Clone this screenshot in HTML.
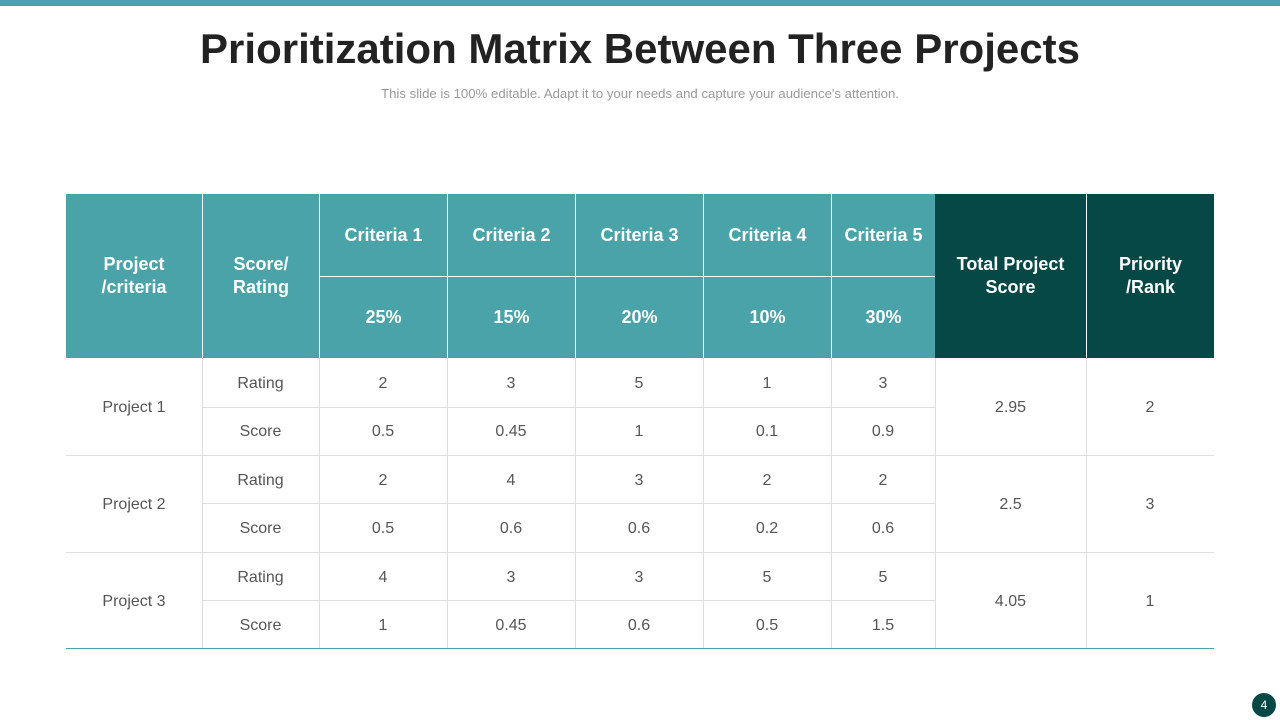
<!DOCTYPE html>
<html><head><style>
body{margin:0;width:1280px;height:720px;position:relative;background:#fff;font-family:"Liberation Sans",Arial,sans-serif;overflow:hidden}
.a{position:absolute;box-sizing:border-box;display:flex;align-items:center;justify-content:center;text-align:center}
.h{background:#4aa3a8;color:#fff;font-weight:bold;font-size:18px;line-height:23px}
.d{background:#054846;color:#fff;font-weight:bold;font-size:18px;line-height:23px}
.c{color:#555;font-size:16px;padding-top:3px}
.vl{position:absolute;width:1px;background:#ddd}
.hl{position:absolute;height:1px;background:#ddd}
</style></head><body>
<div style="position:absolute;left:0;top:0;width:1280px;height:6px;background:#4aa3a8"></div>
<div class="a" style="left:0;top:21px;width:1280px;height:56px;font-size:42px;font-weight:bold;color:#222">Prioritization Matrix Between Three Projects</div>
<div class="a" style="left:0;top:84px;width:1280px;height:18px;font-size:13.2px;color:#999">This slide is 100% editable. Adapt it to your needs and capture your audience's attention.</div>

<div class="a h" style="left:66px;top:194px;width:136px;height:164px">Project<br>/criteria</div>
<div class="a h" style="left:203px;top:194px;width:116px;height:164px">Score/<br>Rating</div>
<div class="a h" style="left:320px;top:194px;width:127px;height:82px">Criteria 1</div>
<div class="a h" style="left:448px;top:194px;width:127px;height:82px">Criteria 2</div>
<div class="a h" style="left:576px;top:194px;width:127px;height:82px">Criteria 3</div>
<div class="a h" style="left:704px;top:194px;width:127px;height:82px">Criteria 4</div>
<div class="a h" style="left:832px;top:194px;width:103px;height:82px">Criteria 5</div>
<div class="a h" style="left:320px;top:277px;width:127px;height:81px">25%</div>
<div class="a h" style="left:448px;top:277px;width:127px;height:81px">15%</div>
<div class="a h" style="left:576px;top:277px;width:127px;height:81px">20%</div>
<div class="a h" style="left:704px;top:277px;width:127px;height:81px">10%</div>
<div class="a h" style="left:832px;top:277px;width:103px;height:81px">30%</div>
<div class="a d" style="left:935px;top:194px;width:151px;height:164px">Total Project<br>Score</div>
<div class="a d" style="left:1087px;top:194px;width:127px;height:164px">Priority<br>/Rank</div>

<div class="vl" style="left:202px;top:358px;height:291px"></div>
<div class="vl" style="left:319px;top:358px;height:291px"></div>
<div class="vl" style="left:447px;top:358px;height:291px"></div>
<div class="vl" style="left:575px;top:358px;height:291px"></div>
<div class="vl" style="left:703px;top:358px;height:291px"></div>
<div class="vl" style="left:831px;top:358px;height:291px"></div>
<div class="vl" style="left:935px;top:358px;height:291px"></div>
<div class="vl" style="left:1086px;top:358px;height:291px"></div>
<div class="hl" style="left:202px;top:407px;width:733px"></div>
<div class="hl" style="left:66px;top:455px;width:1148px"></div>
<div class="hl" style="left:202px;top:503px;width:733px"></div>
<div class="hl" style="left:66px;top:552px;width:1148px"></div>
<div class="hl" style="left:202px;top:600px;width:733px"></div>
<div style="position:absolute;left:66px;top:648px;width:1148px;height:1px;background:#4aa3a8"></div>

<div id="body"></div>
<script>
var rows=[["Project 1",["2","3","5","1","3"],["0.5","0.45","1","0.1","0.9"],"2.95","2"],
["Project 2",["2","4","3","2","2"],["0.5","0.6","0.6","0.2","0.6"],"2.5","3"],
["Project 3",["4","3","3","5","5"],["1","0.45","0.6","0.5","1.5"],"4.05","1"]];
var xs=[[319,447],[447,575],[575,703],[703,831],[831,935]];
var h="";
function cell(x,y,w,hh,t){h+='<div class="a c" style="left:'+x+'px;top:'+y+'px;width:'+w+'px;height:'+hh+'px">'+t+'</div>';}
rows.forEach(function(r,i){var y=358+i*97;
cell(66,y,136,97,r[0]);cell(202,y,117,49,"Rating");cell(202,y+48,117,49,"Score");
for(var j=0;j<5;j++){cell(xs[j][0],y,xs[j][1]-xs[j][0],49,r[1][j]);cell(xs[j][0],y+48,xs[j][1]-xs[j][0],49,r[2][j]);}
cell(935,y,151,97,r[3]);cell(1086,y,128,97,r[4]);});
document.getElementById("body").innerHTML=h;
</script>
<div class="a" style="left:1252px;top:693px;width:24px;height:24px;border-radius:50%;background:#054846;color:#fff;font-size:12px">4</div>
</body></html>
